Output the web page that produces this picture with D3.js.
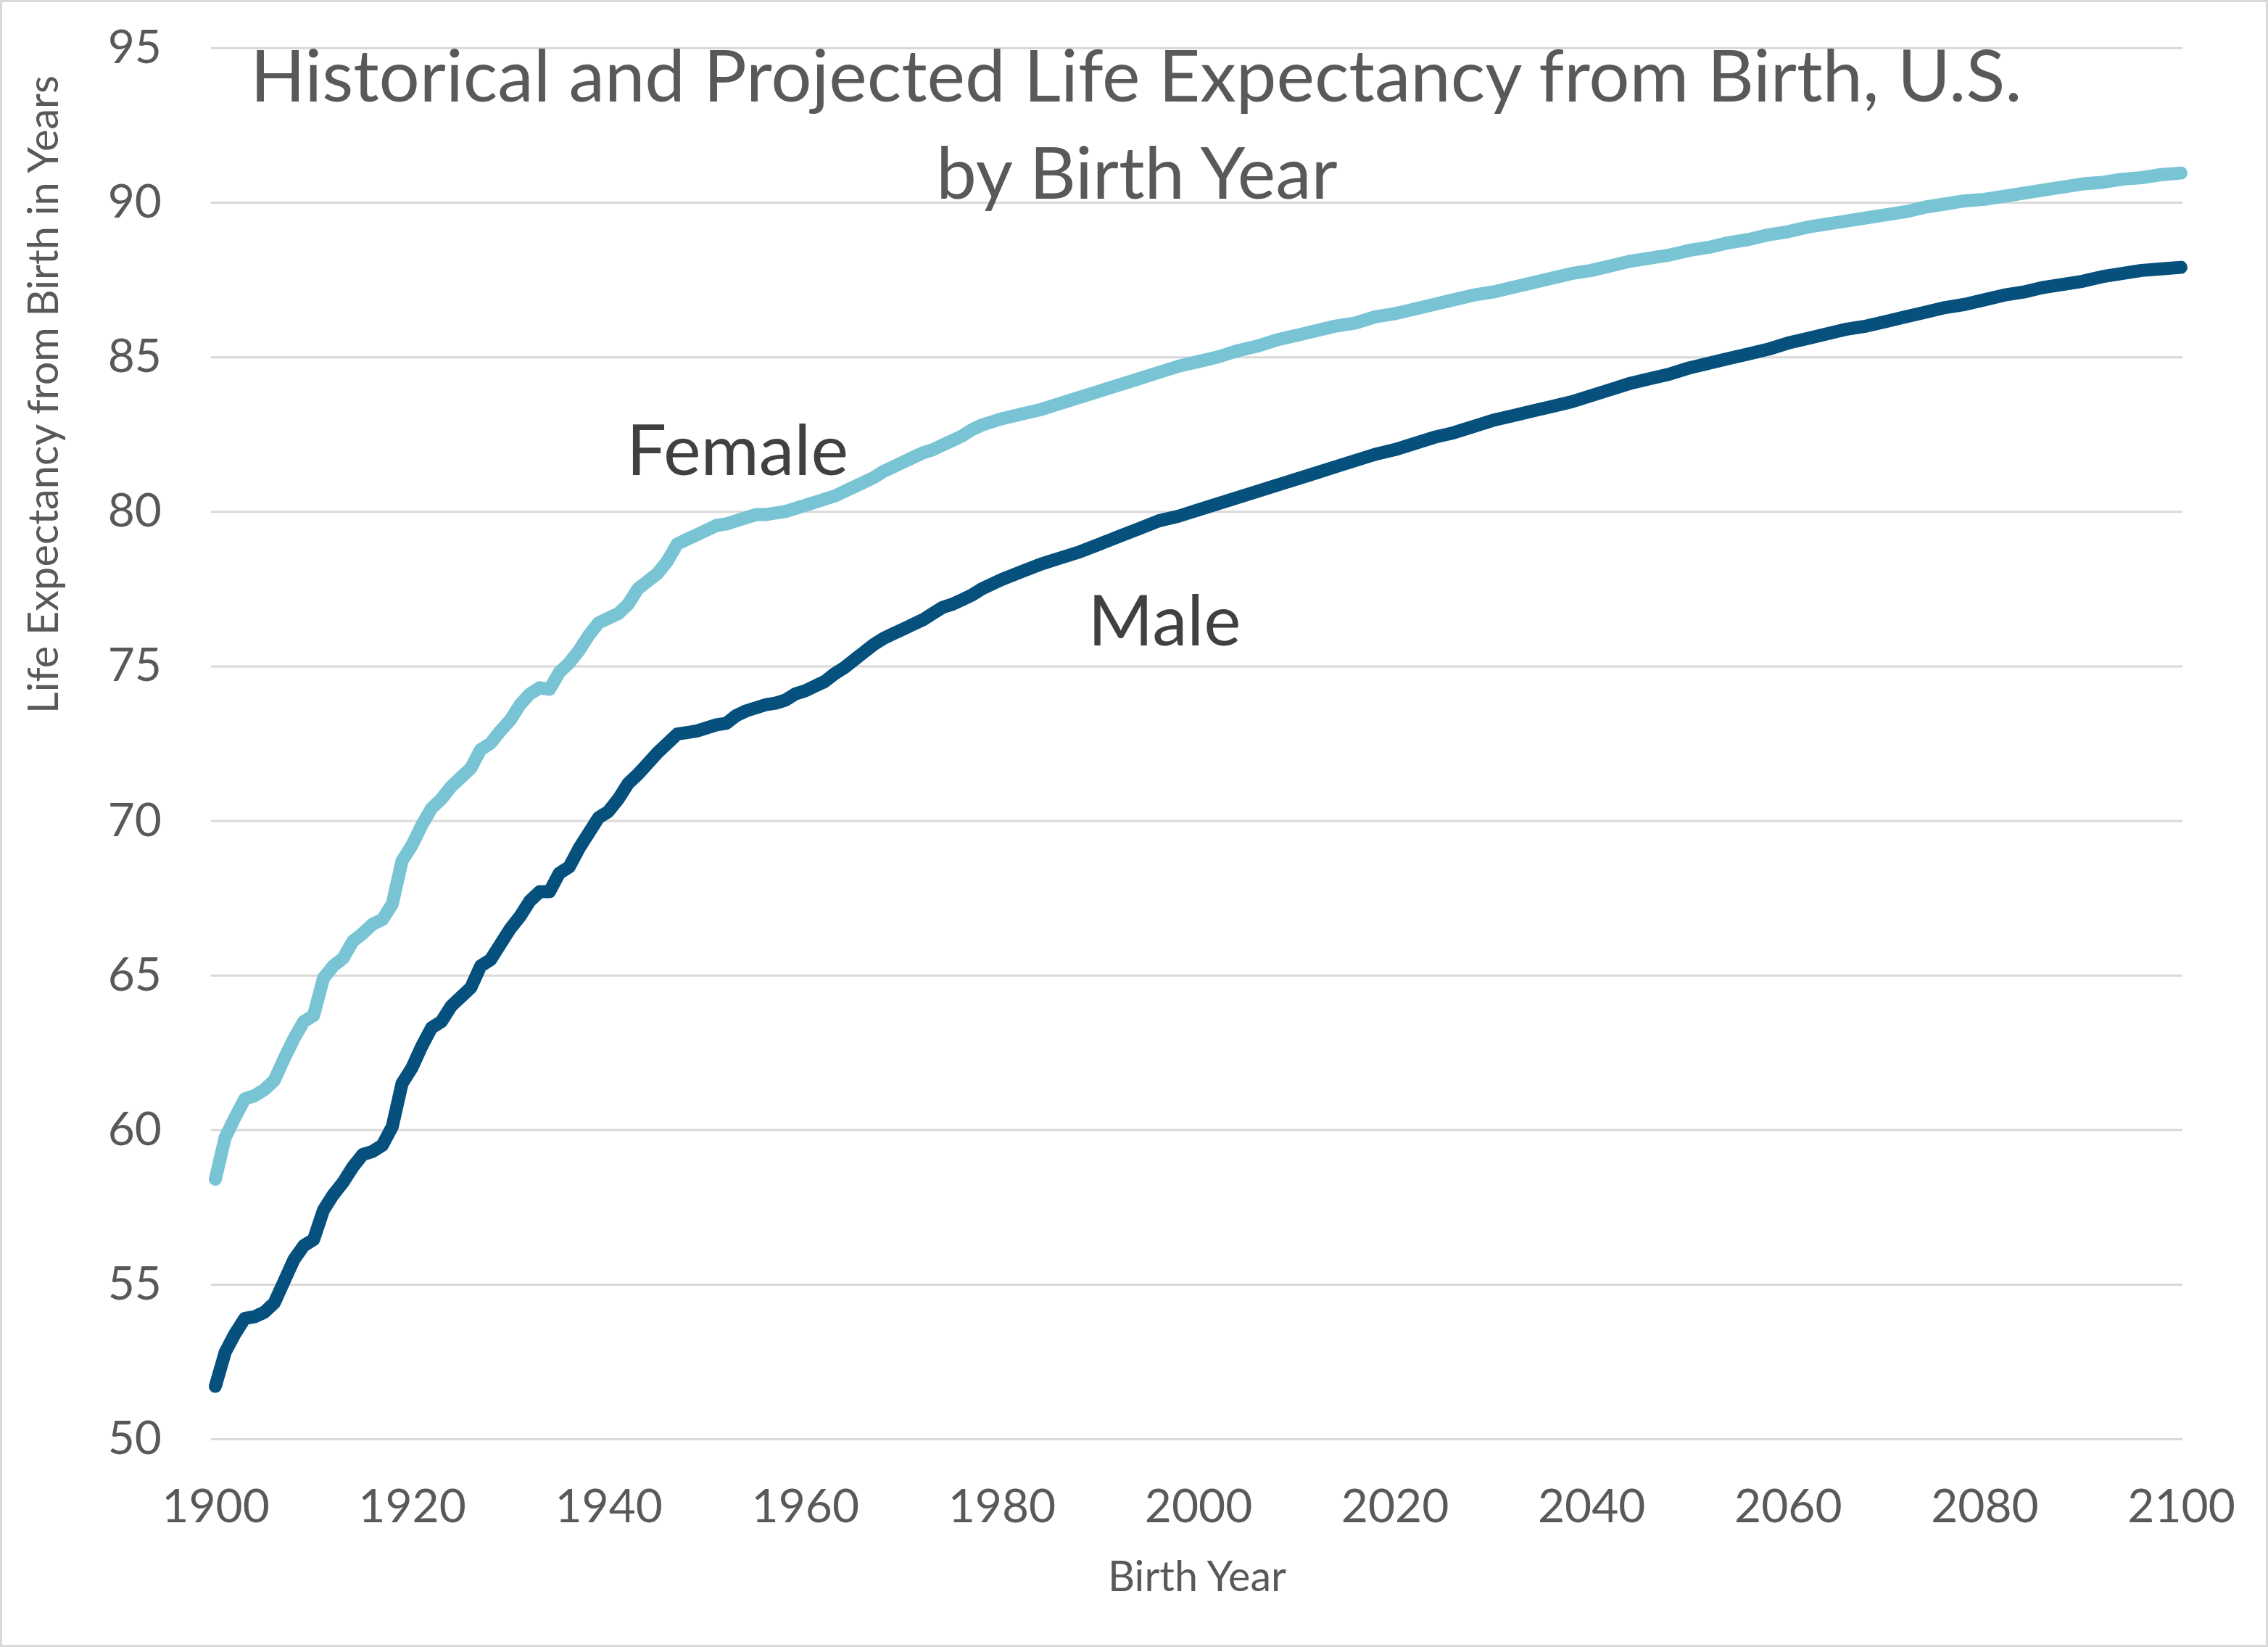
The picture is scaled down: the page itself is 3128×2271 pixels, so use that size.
<!DOCTYPE html>
<html>
<head>
<meta charset="utf-8">
<script src="https://cdn.jsdelivr.net/npm/d3@7/dist/d3.min.js"></script>
<style>
  html, body { margin: 0; padding: 0; background: #fff; }
  svg { display: block; font-family: Lato, "Open Sans", sans-serif; }
</style>
</head>
<body>
<svg id="chart" width="3128" height="2271"></svg>
<script>
// years (yearly to 1977, then every 2 years)
const years = [
  1900,1901,1902,1903,1904,1905,1906,1907,1908,1909,
  1910,1911,1912,1913,1914,1915,1916,1917,1918,1919,
  1920,1921,1922,1923,1924,1925,1926,1927,1928,1929,
  1930,1931,1932,1933,1934,1935,1936,1937,1938,1939,
  1940,1941,1942,1943,1944,1945,1946,1947,1948,1949,
  1950,1951,1952,1953,1954,1955,1956,1957,1958,1959,
  1960,1961,1962,1963,1964,1965,1966,1967,1968,1969,
  1970,1971,1972,1973,1974,1975,1976,1977,
  1978,1980,1982,1984,1986,1988,1990,1992,1994,1996,1998,
  2000,2002,2004,2006,2008,2010,2012,2014,2016,2018,
  2020,2022,2024,2026,2028,2030,2032,2034,2036,2038,
  2040,2042,2044,2046,2048,2050,2052,2054,2056,2058,
  2060,2062,2064,2066,2068,2070,2072,2074,2076,2078,
  2080,2082,2084,2086,2088,2090,2092,2094,2096,2098,2100
];

const female = [
  58.4,59.75,60.4,61.0,61.1,61.3,61.6,62.3,62.95,63.5,
  63.7,64.9,65.3,65.55,66.1,66.35,66.65,66.8,67.3,68.7,
  69.2,69.85,70.4,70.7,71.1,71.4,71.7,72.3,72.5,72.9,
  73.25,73.75,74.1,74.3,74.25,74.8,75.1,75.5,76.0,76.4,
  76.55,76.7,77.0,77.5,77.75,78.0,78.4,78.95,79.1,79.25,
  79.4,79.55,79.6,79.7,79.8,79.9,79.9,79.95,80.0,80.1,
  80.2,80.3,80.4,80.5,80.65,80.8,80.95,81.1,81.3,81.45,
  81.6,81.75,81.9,82.0,82.15,82.3,82.45,82.65,
  82.8,83.0,83.15,83.3,83.5,83.7,83.9,84.1,84.3,84.5,84.7,
  84.85,85.0,85.2,85.35,85.55,85.7,85.85,86.0,86.1,86.3,
  86.4,86.55,86.7,86.85,87.0,87.1,87.25,87.4,87.55,87.7,
  87.8,87.95,88.1,88.2,88.3,88.45,88.55,88.7,88.8,88.95,
  89.05,89.2,89.3,89.4,89.5,89.6,89.7,89.85,89.95,90.05,
  90.1,90.2,90.3,90.4,90.5,90.6,90.65,90.75,90.8,90.9,90.95
];

const male = [
  51.7,52.8,53.4,53.9,53.95,54.1,54.4,55.1,55.8,56.25,
  56.45,57.4,57.9,58.3,58.8,59.2,59.3,59.5,60.1,61.5,
  62.0,62.7,63.3,63.5,64.0,64.3,64.6,65.3,65.5,66.0,
  66.5,66.9,67.4,67.7,67.7,68.3,68.5,69.1,69.6,70.1,
  70.3,70.7,71.2,71.5,71.85,72.2,72.5,72.8,72.85,72.9,
  73.0,73.1,73.15,73.4,73.55,73.65,73.75,73.8,73.9,74.1,
  74.2,74.35,74.5,74.75,74.95,75.2,75.45,75.7,75.9,76.05,
  76.2,76.35,76.5,76.7,76.9,77.0,77.15,77.3,
  77.5,77.8,78.05,78.3,78.5,78.7,78.95,79.2,79.45,79.7,79.85,
  80.05,80.25,80.45,80.65,80.85,81.05,81.25,81.45,81.65,81.85,
  82.0,82.2,82.4,82.55,82.75,82.95,83.1,83.25,83.4,83.55,
  83.75,83.95,84.15,84.3,84.45,84.65,84.8,84.95,85.1,85.25,
  85.45,85.6,85.75,85.9,86.0,86.15,86.3,86.45,86.6,86.7,
  86.85,87.0,87.1,87.25,87.35,87.45,87.6,87.7,87.8,87.85,87.9
];

const xTicks = [1900,1920,1940,1960,1980,2000,2020,2040,2060,2080,2100];
const yTicks = [50,55,60,65,70,75,80,85,90,95];

const titleLines = ["Historical and Projected Life Expectancy from Birth, U.S.", "by Birth Year"];

const svg = d3.select("#chart");
const width = +svg.attr("width");
const height = +svg.attr("height");

// plot area
const plotLeft = 297, plotRight = 3008, plotTop = 66, plotBottom = 1984;

const x = d3.scaleLinear().domain([1900, 2100]).range([plotLeft, plotRight]);
const y = d3.scaleLinear().domain([50, 95]).range([plotBottom, plotTop]);

// scale font size so the text takes up a given width
function fitText(sel, target) {
  const base = parseFloat(sel.attr("font-size"));
  const w = sel.node().getComputedTextLength();
  sel.attr("font-size", base * target / w);
  return sel;
}

// outer border
svg.append("rect")
  .attr("x", 1.5).attr("y", 1.5)
  .attr("width", width - 3).attr("height", height - 3)
  .attr("fill", "#fff")
  .attr("stroke", "#d9d9d9")
  .attr("stroke-width", 3);

// gridlines + y labels
const yAxis = svg.append("g")
  .attr("transform", `translate(${plotLeft - 6},0)`)
  .call(d3.axisLeft(y).tickValues(yTicks).tickSize(-(plotRight - plotLeft + 8)).tickPadding(68));
yAxis.select(".domain").remove();
yAxis.selectAll(".tick line").attr("stroke", "#d9d9d9").attr("stroke-width", 3);
yAxis.selectAll(".tick text")
  .attr("fill", "#595959")
  .attr("font-size", 64)
  .attr("font-family", "Lato, sans-serif");

// x labels
const xAxis = svg.append("g")
  .attr("transform", `translate(0,${plotBottom})`)
  .call(d3.axisBottom(x).tickValues(xTicks).tickSize(0).tickPadding(70).tickFormat(d3.format("d")));
xAxis.select(".domain").remove();
xAxis.selectAll(".tick text")
  .attr("fill", "#595959")
  .attr("font-size", 64)
  .attr("font-family", "Lato, sans-serif");

// lines
const line = d3.line()
  .x((d, i) => x(years[i]))
  .y(d => y(d));

svg.append("path")
  .datum(female)
  .attr("d", line)
  .attr("fill", "none")
  .attr("stroke", "#78c4d4")
  .attr("stroke-width", 18)
  .attr("stroke-linejoin", "round")
  .attr("stroke-linecap", "round");

svg.append("path")
  .datum(male)
  .attr("d", line)
  .attr("fill", "none")
  .attr("stroke", "#05507d")
  .attr("stroke-width", 18)
  .attr("stroke-linejoin", "round")
  .attr("stroke-linecap", "round");

// title
const t1 = svg.append("text")
  .attr("x", 1567).attr("y", 140)
  .attr("text-anchor", "middle")
  .attr("fill", "#595959")
  .attr("font-size", 90)
  .text(titleLines[0]);
fitText(t1, 2444);

svg.append("text")
  .attr("x", 1568).attr("y", 274)
  .attr("text-anchor", "middle")
  .attr("fill", "#595959")
  .attr("font-size", t1.attr("font-size"))
  .text(titleLines[1]);

// series labels
fitText(svg.append("text")
  .attr("x", 1017).attr("y", 655)
  .attr("text-anchor", "middle")
  .attr("fill", "#404040")
  .attr("font-size", 100)
  .text("Female"), 306);

fitText(svg.append("text")
  .attr("x", 1606).attr("y", 890)
  .attr("text-anchor", "middle")
  .attr("fill", "#404040")
  .attr("font-size", 100)
  .text("Male"), 211);

// axis titles
fitText(svg.append("text")
  .attr("x", 1651).attr("y", 2194)
  .attr("text-anchor", "middle")
  .attr("fill", "#595959")
  .attr("font-size", 50)
  .text("Birth Year"), 246);

fitText(svg.append("text")
  .attr("transform", "translate(80,544) rotate(-90)")
  .attr("text-anchor", "middle")
  .attr("fill", "#595959")
  .attr("font-size", 50)
  .text("Life Expectancy from Birth in Years"), 880);
</script>
</body>
</html>
